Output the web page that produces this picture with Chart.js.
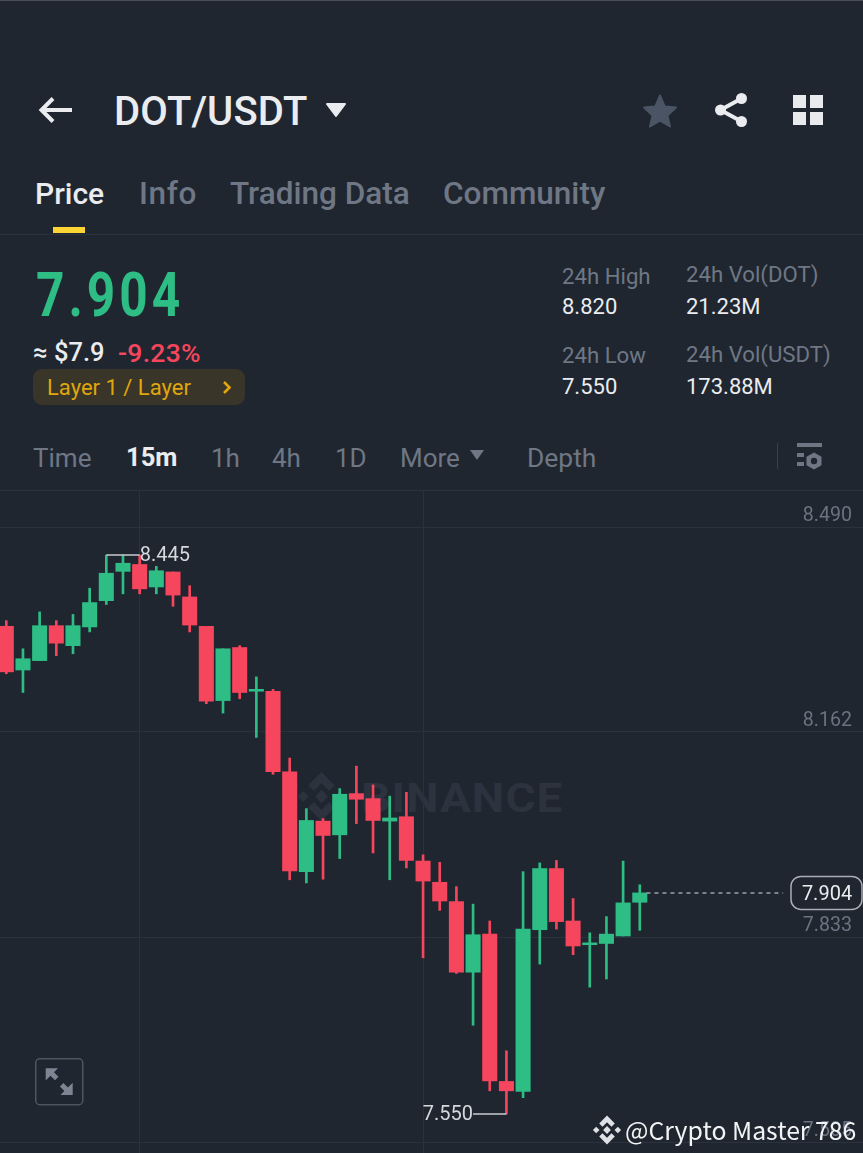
<!DOCTYPE html>
<html><head><meta charset="utf-8">
<script src="https://cdn.jsdelivr.net/npm/chart.js@4"></script>
<style>
html,body{margin:0;padding:0;background:#1f2630;}
#page{position:relative;width:863px;height:1153px;overflow:hidden;background:#1f2630;font-family:Roboto,sans-serif;}
.t{position:absolute;white-space:nowrap;line-height:1;transform:translateY(-50%);}
.abs{position:absolute;}
canvas{position:absolute;left:0;top:490px;}
</style></head><body>
<div id="page"></div>
<script>
// ---- chart data (DOT/USDT 15m candles) ----
const opens =[8.331,8.261,8.276,8.332,8.300,8.330,8.372,8.419,8.430,8.394,8.418,8.378,8.331,8.212,8.297,8.227,8.227,8.098,7.938,8.019,7.997,8.063,8.055,8.019,8.026,7.955,7.921,7.890,7.777,7.838,7.602,7.586,7.845,7.943,7.859,7.821,7.823,7.835,7.889];
const highs =[8.340,8.295,8.354,8.340,8.350,8.392,8.445,8.445,8.445,8.427,8.418,8.396,8.331,8.295,8.300,8.250,8.230,8.120,8.039,8.023,8.071,8.107,8.077,8.059,8.065,7.965,7.953,7.914,7.886,7.859,7.651,7.938,7.952,7.956,7.895,7.840,7.866,7.955,7.917];
const lows  =[8.255,8.225,8.276,8.284,8.287,8.322,8.366,8.383,8.383,8.383,8.363,8.322,8.207,8.192,8.215,8.153,8.094,7.925,7.920,7.926,7.959,8.015,7.968,7.925,7.944,7.800,7.876,7.775,7.692,7.587,7.550,7.576,7.790,7.846,7.805,7.753,7.766,7.835,7.844];
const closes=[8.258,8.279,8.332,8.304,8.332,8.369,8.416,8.432,8.391,8.420,8.381,8.333,8.211,8.295,8.225,8.230,8.098,7.939,8.020,7.996,8.062,8.054,8.020,8.024,7.956,7.923,7.891,7.777,7.837,7.603,7.587,7.846,7.943,7.858,7.819,7.824,7.838,7.888,7.904];
const priceTicks=[8.490,8.162,7.833,7.505];
const gridCandles=[8,25];
const highLabel=8.445, lowLabel=7.550, lastPrice=7.904;
const highSpan=[6,8], lowSpan=[28,30], lastSpan=[38.4,46.6];
const xRange=[-0.378,51.39], yRange=[7.4874,8.5493];

const UP='#2ebd85', DOWN='#f6465d', GRID='#2b323d', TICK='#6b7280';
const page=document.getElementById('page');
function txt(s,x,y,size,color,weight,extra){
  const d=document.createElement('div');d.className='t';d.textContent=s;
  d.style.cssText=`left:${x}px;top:${y}px;font-size:${size}px;color:${color};font-weight:${weight||400};${extra||''}`;
  page.appendChild(d);return d;
}
function html(h){const w=document.createElement('div');w.innerHTML=h;while(w.firstChild)page.appendChild(w.firstChild);}
const G='#6f7785',W='#eaecef';
html(`<div class="abs" style="left:0;top:0;width:863px;height:1px;background:#4a4e5a"></div>`);
// Header
html(`<svg class="abs" style="left:38px;top:94px" width="36" height="32" viewBox="0 0 36 32"><path d="M4 16H34M15 4.5L3.5 16L15 27.5" fill="none" stroke="#eaecef" stroke-width="4"/></svg>`);
txt('DOT/USDT',114,112,40,W,500,'letter-spacing:.1px');
html(`<svg class="abs" style="left:325px;top:102px" width="22" height="16"><path d="M2 2H20L11 14Z" fill="#eaecef" stroke="#eaecef" stroke-width="2" stroke-linejoin="round"/></svg>`);
html(`<svg class="abs" style="left:642px;top:93px" width="36" height="36" viewBox="0 0 36 36"><path d="M18 2.5L22.7 13.6L34 14.6L25.4 22.4L28 33.5L18 27.7L8 33.5L10.6 22.4L2 14.6L13.3 13.6Z" fill="#4a5465" stroke="#4a5465" stroke-width="2" stroke-linejoin="round"/></svg>`);
html(`<svg class="abs" style="left:713px;top:92px" width="36" height="38" viewBox="0 0 36 38"><path d="M28.5 6.5L7.5 18L28.5 29.5" fill="none" stroke="#eaecef" stroke-width="4"/><circle cx="28.5" cy="6.5" r="5.5" fill="#eaecef"/><circle cx="7.5" cy="18" r="5.5" fill="#eaecef"/><circle cx="28.5" cy="29.5" r="5.5" fill="#eaecef"/></svg>`);
html(`<svg class="abs" style="left:793px;top:95px" width="30" height="30"><g fill="#e8eaed"><rect width="13" height="13"/><rect x="17" width="13" height="13"/><rect y="17" width="13" height="13"/><rect x="17" y="17" width="13" height="13"/></g></svg>`);
// Tabs
txt('Price',35,194,30,W,500);
txt('Info',139,194,31.5,G,500,'letter-spacing:.6px');
txt('Trading Data',230,194,31.5,G,500);
txt('Community',443,194,31.5,G,500);
html(`<div class="abs" style="left:53px;top:227px;width:32px;height:6px;background:#fcd535"></div>`);
html(`<div class="abs" style="left:0;top:234px;width:863px;height:1px;background:${GRID}"></div>`);
// Price block
txt('7.904',36,294.5,62,UP,700,'letter-spacing:5px;transform:translateY(-50%) scaleX(.8);transform-origin:left center');
txt('≈ $7.9',33,353,25.5,W,500);
txt('-9.23%',118,353,26.5,DOWN,500,'letter-spacing:.3px');
html(`<div class="abs" style="left:33px;top:369px;width:212px;height:36px;border-radius:9px;background:#393528"></div>`);
txt('Layer 1 / Layer',47,388,22,'#e0a60d',400);
html(`<svg class="abs" style="left:221px;top:380px" width="12" height="15"><path d="M3 2L8.5 7.5L3 13" fill="none" stroke="#e0a60d" stroke-width="2.6"/></svg>`);
// Stats
txt('24h High',562,276,22.2,G); txt('8.820',562,307,22,W);
txt('24h Vol(DOT)',686,274,22.2,G); txt('21.23M',686,307,22,W);
txt('24h Low',562,355,22.2,G); txt('7.550',562,387,22,W);
txt('24h Vol(USDT)',686,354,22.2,G); txt('173.88M',686,387,22,W);
// Interval row
txt('Time',33,458,26,G);
txt('15m',126,458,25.5,W,700);
txt('1h',211,458,26,G);
txt('4h',272,458,26,G);
txt('1D',335,458,26,G);
txt('More',400,458,26,G);
html(`<svg class="abs" style="left:469px;top:449px" width="16" height="12"><path d="M1 1H15L8 11Z" fill="${G}"/></svg>`);
txt('Depth',527,458,26.4,G);
html(`<div class="abs" style="left:777px;top:443px;width:1px;height:26px;background:#39404b"></div>`);
html(`<svg class="abs" style="left:796px;top:441px" width="28" height="30"><g fill="${G}"><rect x="1" y="2" width="25" height="4"/><rect x="1" y="12" width="7" height="4"/><rect x="1" y="21" width="7" height="4"/><path d="M18 11.5L25.5 15.8V24.2L18 28.5L10.5 24.2V15.8Z"/></g><circle cx="18" cy="20" r="3.2" fill="#1f2630"/></svg>`);
html(`<div class="abs" style="left:0;top:490px;width:863px;height:1px;background:${GRID}"></div>`);
// Binance watermark (behind chart canvas)
html(`<svg class="abs" style="left:296px;top:771px" width="51" height="51" viewBox="0 0 50 50"><g fill="#2c323e"><path d="M25 1L38 14L32.5 19.5L25 12L17.5 19.5L12 14Z"/><path d="M25 49L12 36L17.5 30.5L25 38L32.5 30.5L38 36Z"/><path d="M7 19.5L12.5 25L7 30.5L1.5 25Z"/><path d="M43 19.5L48.5 25L43 30.5L37.5 25Z"/><path d="M25 18.5L31.5 25L25 31.5L18.5 25Z"/></g></svg>`);
txt('BINANCE',361,798,41,'#2c323e',700,'letter-spacing:1px;transform:translateY(-50%) scaleX(1.12);transform-origin:left center');

// Chart canvas
const c=document.createElement('canvas');c.width=863;c.height=663;c.style.width='863px';c.style.height='663px';page.appendChild(c);

const markerPlugin={id:'markers',afterDraw(ch){
  const g=ch.ctx,x=ch.scales.x,y=ch.scales.y;
  g.save();
  g.font='20px Roboto, sans-serif';g.textBaseline='middle';g.fillStyle='#d5d8dc';
  g.textAlign='left';g.fillText(highLabel.toFixed(3),x.getPixelForValue(highSpan[1]),y.getPixelForValue(highLabel)+1);
  g.textAlign='right';g.fillText(lowLabel.toFixed(3),x.getPixelForValue(lowSpan[0]),y.getPixelForValue(lowLabel)+1);
  const py=y.getPixelForValue(lastPrice);
  g.beginPath();g.roundRect(791,py-16.5,71,33,10);g.fillStyle='#1f2630';g.fill();g.lineWidth=1.5;g.strokeStyle='#a9adb4';g.stroke();
  g.textAlign='center';g.fillStyle='#eaecef';g.fillText(lastPrice.toFixed(3),827,py+2);
  g.restore();
}};
const idx=opens.map((_,i)=>i);
const col=ctx=>{const i=ctx.dataIndex;return closes[i]>=opens[i]?UP:DOWN;};
const seg=(span,v)=>span.map(s=>({x:s,y:v}));
new Chart(c,{
  data:{datasets:[
    {type:'bar',label:'wick',data:idx.map(i=>({x:i,y:[lows[i],highs[i]]})),barThickness:2,grouped:false,backgroundColor:col,borderWidth:0,borderSkipped:false,order:3},
    {type:'bar',label:'body',data:idx.map(i=>({x:i,y:[opens[i],closes[i]]})),barThickness:14.4,grouped:false,backgroundColor:col,borderWidth:0,borderSkipped:false,order:2},
    {type:'line',label:'high',data:seg(highSpan,highLabel),borderColor:'#c9ccd1',borderWidth:1.5,pointRadius:0,order:1},
    {type:'line',label:'low',data:seg(lowSpan,lowLabel),borderColor:'#c9ccd1',borderWidth:1.5,pointRadius:0,order:1},
    {type:'line',label:'last',data:seg(lastSpan,lastPrice),borderColor:'#9ca0a8',borderWidth:1.5,borderDash:[4,4],pointRadius:0,order:1}
  ]},
  options:{
    responsive:false,animation:false,devicePixelRatio:1,
    layout:{padding:0},
    plugins:{legend:{display:false},tooltip:{enabled:false}},
    scales:{
      x:{type:'linear',offset:false,min:xRange[0],max:xRange[1],display:true,
         afterBuildTicks:s=>{s.ticks=gridCandles.map(v=>({value:v}));},
         ticks:{display:false},border:{display:false},grid:{offset:false,color:GRID,drawTicks:false,lineWidth:1}},
      y:{type:'linear',position:'right',beginAtZero:false,min:yRange[0],max:yRange[1],
         afterBuildTicks:s=>{s.ticks=priceTicks.map(v=>({value:v}));},
         afterFit:s=>{s.width=0;s.paddingTop=0;s.paddingBottom=0;},
         ticks:{mirror:true,padding:-11,labelOffset:-11,color:TICK,font:{family:'Roboto',size:19.6},callback:v=>Number(v).toFixed(3)},
         border:{display:false},grid:{color:GRID,drawTicks:false,lineWidth:1}}
    }
  },
  plugins:[markerPlugin]
});
// Expand button
html(`<svg class="abs" style="left:35px;top:1058px" width="49" height="48" viewBox="0 0 49 48"><rect x=".75" y=".75" width="47" height="46" rx="4" fill="#1f2630" stroke="#4e5561" stroke-width="1.5"/><g fill="#7d8593"><path d="M10.7 10.3H23L19 14.3L23.5 18.8L20 22.3L15.5 17.8L10.7 22.6Z"/><path d="M10.7 10.3H23L19 14.3L23.5 18.8L20 22.3L15.5 17.8L10.7 22.6Z" transform="rotate(180 24.2 23.65)"/></g></svg>`);
// Post watermark
html(`<svg class="abs" style="left:592px;top:1115px" width="30" height="30" viewBox="0 0 50 50"><g fill="#dfe1e4"><path d="M25 1L38 14L32.5 19.5L25 12L17.5 19.5L12 14Z"/><path d="M25 49L12 36L17.5 30.5L25 38L32.5 30.5L38 36Z"/><path d="M7 19.5L12.5 25L7 30.5L1.5 25Z"/><path d="M43 19.5L48.5 25L43 30.5L37.5 25Z"/><path d="M25 18.5L31.5 25L25 31.5L18.5 25Z"/></g></svg>`);
txt('@Crypto Master 786',625,1128.5,24.8,'#f2f3f4',400,"font-family:'Noto Sans CJK SC','Noto Sans',sans-serif");
</script>
</body></html>
